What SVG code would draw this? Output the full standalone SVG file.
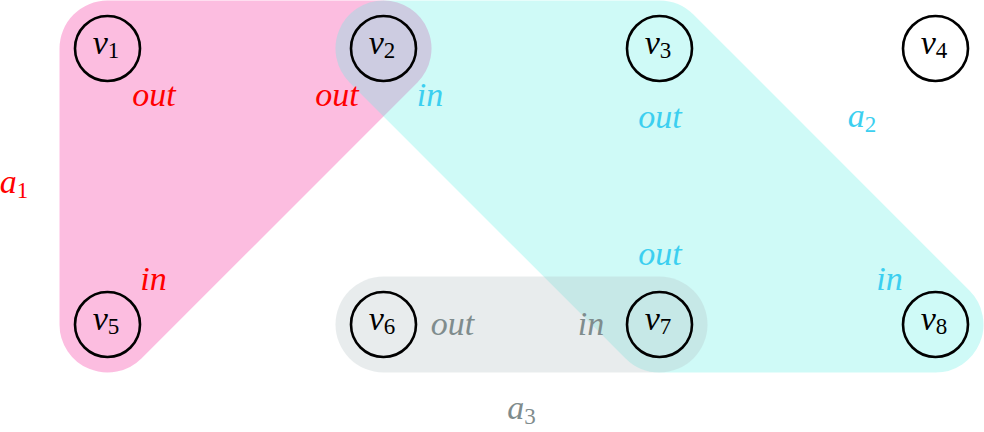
<svg xmlns="http://www.w3.org/2000/svg" width="984" height="432" viewBox="0 0 984 432">
<style>
.hull{stroke:none;fill-opacity:0.3}
.node circle{fill:none;stroke:#000;stroke-width:2.6}
text{font-family:"Liberation Serif","Times New Roman",serif;font-style:italic;font-size:34px;text-anchor:middle}
.sub{font-style:normal;font-size:23px}
.red{fill:#ff0000}
.cy{fill:#3ccff0}
.gr{fill:#7f8c8d}
.nl{fill:#000}
</style>
<rect width="984" height="432" fill="#fff"/>
<g id="hyperedges">
<path id="a1" class="hull" fill="#f52698" d="M107.5,0.5 L383.5,0.5 A48,48 0 0 1 417.44,82.44 L141.44,358.44 A48,48 0 0 1 59.5,324.5 L59.5,48.5 A48,48 0 0 1 107.5,0.5 Z"/>
<path id="a2" class="hull" fill="#5feee4" d="M383.5,0.5 L659.5,0.5 A48,48 0 0 1 693.44,14.56 L969.44,290.56 A48,48 0 0 1 935.5,372.5 L659.5,372.5 A48,48 0 0 1 625.56,358.44 L349.56,82.44 A48,48 0 0 1 383.5,0.5 Z"/>
<rect id="a3" class="hull" fill="#b2c0c3" x="335.5" y="276.5" width="372" height="96" rx="48" ry="48"/>
</g>
<g id="labels">
<text class="red" x="154" y="106">out</text>
<text class="red" x="337" y="106">out</text>
<text class="cy" x="430" y="106">in</text>
<text class="cy" x="660" y="127.5">out</text>
<text class="cy" x="862" y="127">a<tspan class="sub" dy="5">2</tspan></text>
<text class="red" x="14" y="193">a<tspan class="sub" dy="5">1</tspan></text>
<text class="red" x="153.5" y="290">in</text>
<text class="gr" x="452.5" y="335">out</text>
<text class="gr" x="591" y="335">in</text>
<text class="cy" x="660" y="265">out</text>
<text class="cy" x="889.5" y="290">in</text>
<text class="gr" x="521.5" y="419">a<tspan class="sub" dy="5">3</tspan></text>
</g>
<g id="v1" class="node"><circle cx="107.5" cy="48.5" r="32.5"/><text class="nl" x="106" y="54">v<tspan class="sub" dy="4">1</tspan></text></g>
<g id="v2" class="node"><circle cx="383.5" cy="48.5" r="32.5"/><text class="nl" x="382" y="54">v<tspan class="sub" dy="4">2</tspan></text></g>
<g id="v3" class="node"><circle cx="659.5" cy="48.5" r="32.5"/><text class="nl" x="658" y="54">v<tspan class="sub" dy="4">3</tspan></text></g>
<g id="v4" class="node"><circle cx="935.5" cy="48.5" r="32.5"/><text class="nl" x="934" y="54">v<tspan class="sub" dy="4">4</tspan></text></g>
<g id="v5" class="node"><circle cx="107.5" cy="324.5" r="32.5"/><text class="nl" x="106" y="330">v<tspan class="sub" dy="4">5</tspan></text></g>
<g id="v6" class="node"><circle cx="383.5" cy="324.5" r="32.5"/><text class="nl" x="382" y="330">v<tspan class="sub" dy="4">6</tspan></text></g>
<g id="v7" class="node"><circle cx="659.5" cy="324.5" r="32.5"/><text class="nl" x="658" y="330">v<tspan class="sub" dy="4">7</tspan></text></g>
<g id="v8" class="node"><circle cx="935.5" cy="324.5" r="32.5"/><text class="nl" x="934" y="330">v<tspan class="sub" dy="4">8</tspan></text></g>
<g id="connectors"/>
</svg>
